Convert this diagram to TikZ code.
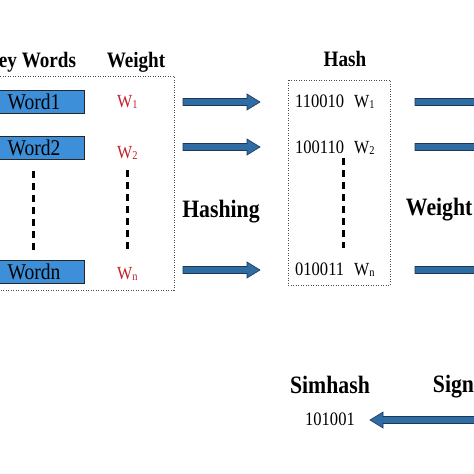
\documentclass[tikz,border=0pt]{standalone}
\usepackage{fontspec}
\setmainfont{Liberation Serif}[FakeStretch=0.87]
\usetikzlibrary{calc}

\definecolor{wordblue}{RGB}{60,143,216}
\definecolor{arrowblue}{RGB}{46,108,163}
\definecolor{arrowline}{RGB}{30,55,85}
\definecolor{wred}{RGB}{196,30,40}

\tikzset{
  wordbox/.style={draw=black!85,fill=wordblue,line width=0.8pt,minimum width=100pt,minimum height=23pt,inner sep=0pt,font=\fontsize{22.5}{22.5}\selectfont},
  headtext/.style={anchor=base,inner sep=0.75pt,font=\bfseries\fontsize{22}{22}\selectfont},
  steptext/.style={anchor=base,inner sep=0.75pt,font=\bfseries\fontsize{25}{25}\selectfont},
  codetext/.style={anchor=base west,inner sep=0pt,font=\fontsize{19}{19}\selectfont},
  wtext/.style={anchor=base west,inner sep=0pt,font=\fontsize{18.5}{18.5}\selectfont},
  dotbox/.style={draw=black!70,line width=0.8pt,dash pattern=on 0.9pt off 1.6pt},
  vdash/.style={line width=3pt,dash pattern=on 7pt off 5pt},
  bigarrow/.style={fill=arrowblue,draw=arrowline,line width=0.6pt,line join=miter},
}

% #1 head offset (-13 points right, 13 points left), #2 tail, #3 tip
\newcommand{\blockarrow}[3][-13]{%
  \draw[bigarrow] ($(#2)+(0,-3.5)$) -- ($(#3)+(#1,-3.5)$) -- ($(#3)+(#1,-8)$) -- (#3)
    -- ($(#3)+(#1,8)$) -- ($(#3)+(#1,3.5)$) -- ($(#2)+(0,3.5)$) -- cycle;}
\newcommand{\wsub}[1]{W\raisebox{-1pt}{\fontsize{12}{12}\selectfont #1}}

\begin{document}
\begin{tikzpicture}[x=1pt,y=1pt,yscale=-1,xscale=1]
	\useasboundingbox (0,0) rectangle (474,474);
	\clip (0,0) rectangle (474,474);

	% Frames
	\draw[dotbox] (-10,76) rectangle (174,290);
	\draw[dotbox] (288,80) rectangle (390,285);

	% Text Node
	\node[headtext,anchor=base east] (kwhead) at (77,67) {Key Words};
	\node[headtext] (wthead) at (136,67) {Weight};
	\node[headtext] (hshead) at (345,66) {Hash};
	\node[steptext] (simhead) at (330,393) {Simhash};
	% Text Node
	\node[steptext] (hashing) at (221,217) {Hashing};
	\node[steptext,anchor=base west] (weighting) at (405,215) {Weight};
	\node[steptext,anchor=base west] (signing) at (432,392) {Sign};

	% Word boxes
	\node[wordbox] (kw1) at (34,101.5) {Word1};
	\node[wordbox] (kw2) at (34,148) {Word2};
	\node[wordbox] (kwn) at (34,271.5) {Wordn};
	\draw[vdash] (kw2.south -| 33,0) ++(0,11) coordinate (kdtop) -- (kdtop |- 0,250) coordinate (kdbot);

	% Weights
	\node[wtext,text=wred] (wt1) at (117,107) {\wsub{1}};
	\node[wtext,text=wred] (wt2) at (117,158) {\wsub{2}};
	\node[wtext,text=wred] (wtn) at (117,279) {\wsub{n}};
	\draw[vdash] (127,170) coordinate (wdtop) -- (127,250) coordinate (wdbot);

	% Hash rows
	\node[codetext] (hc1) at (295,107) {110010};
	\node[wtext] (hw1) at (354,107) {\wsub{1}};
	\node[codetext] (hc2) at (295,153) {100110};
	\node[wtext] (hw2) at (354,153) {\wsub{2}};
	\node[codetext] (hcn) at (295,275) {010011};
	\node[wtext] (hwn) at (354,275) {\wsub{n}};
	\draw[vdash] (343,158) coordinate (hdtop) -- (343,248) coordinate (hdbot);

	% Simhash value
	\node[codetext] (simval) at (305,425) {101001};

	% Connection
	\coordinate (a1s) at (183,102);  \coordinate (a1e) at (260,102);
	\coordinate (a2s) at (183,147);  \coordinate (a2e) at (260,147);
	\coordinate (a3s) at (183,270);  \coordinate (a3e) at (260,270);
	\blockarrow{a1s}{a1e}
	\blockarrow{a2s}{a2e}
	\blockarrow{a3s}{a3e}
	% Connection
	\coordinate (b1s) at (415,102);  \coordinate (b1e) at (540,102);
	\coordinate (b2s) at (415,147);  \coordinate (b2e) at (540,147);
	\coordinate (b3s) at (415,270);  \coordinate (b3e) at (540,270);
	\blockarrow{b1s}{b1e}
	\blockarrow{b2s}{b2e}
	\blockarrow{b3s}{b3e}
	% Connection
	\coordinate (cs) at (540,420);  \coordinate (ce) at (370,420);
	\blockarrow[13]{cs}{ce}

\end{tikzpicture}
\end{document}
